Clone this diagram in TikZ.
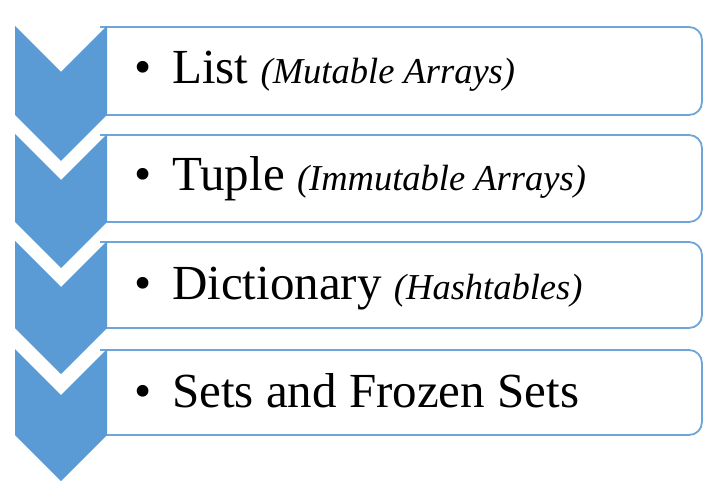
\documentclass[tikz,border=0pt]{standalone}
\usepackage{fontspec}
\setmainfont{Liberation Serif}
\definecolor{chev}{HTML}{5B9BD5}
\definecolor{boxline}{HTML}{6FA6DA}
\newcommand{\subtxt}[1]{{\itshape\fontsize{36.5}{40}\selectfont #1}}
\begin{document}
\begin{tikzpicture}[x=1pt,y=-1pt,
  chevshape/.style={fill=chev,draw=none},
  itembox/.style={draw=boxline,line width=1.8pt,fill=white},
  bullettext/.style={anchor=base west,inner sep=0pt,font=\fontsize{49}{55}\selectfont},
  maintext/.style={anchor=base west,inner sep=0pt,font=\fontsize{49}{55}\selectfont}]
\useasboundingbox (0,0) rectangle (720,497);
\fill[white] (0,0) rectangle (720,497);
\foreach \t/\b/\i in {27/115/1,135/222/2,242/328/3,350/435/4}{
  \draw[itembox] (100,\t) -- (689,\t) arc[start angle=-90,end angle=0,radius=13]
     -- (702,\b-13) arc[start angle=0,end angle=90,radius=13] -- (100,\b);
  \fill[chevshape] (15,\t-1) -- (61,\t+45) -- (107,\t-1) -- (107,\b) -- (61,\b+46) -- (15,\b) -- cycle;
}
\node[bullettext] (b1) at (134,84) {•};
\node[maintext] (t1) at (172,84) {List \subtxt{(Mutable Arrays)}};
\node[bullettext] (b2) at (134,191) {•};
\node[maintext] (t2) at (172,191) {Tuple \subtxt{(Immutable Arrays)}};
\node[bullettext] (b3) at (134,299) {•};
\node[maintext] (t3) at (172,299) {Dictionary \subtxt{(Hashtables)}};
\node[bullettext] (b4) at (134,407) {•};
\node[maintext] (t4) at (172,407) {Sets and Frozen Sets};
\end{tikzpicture}
\end{document}
